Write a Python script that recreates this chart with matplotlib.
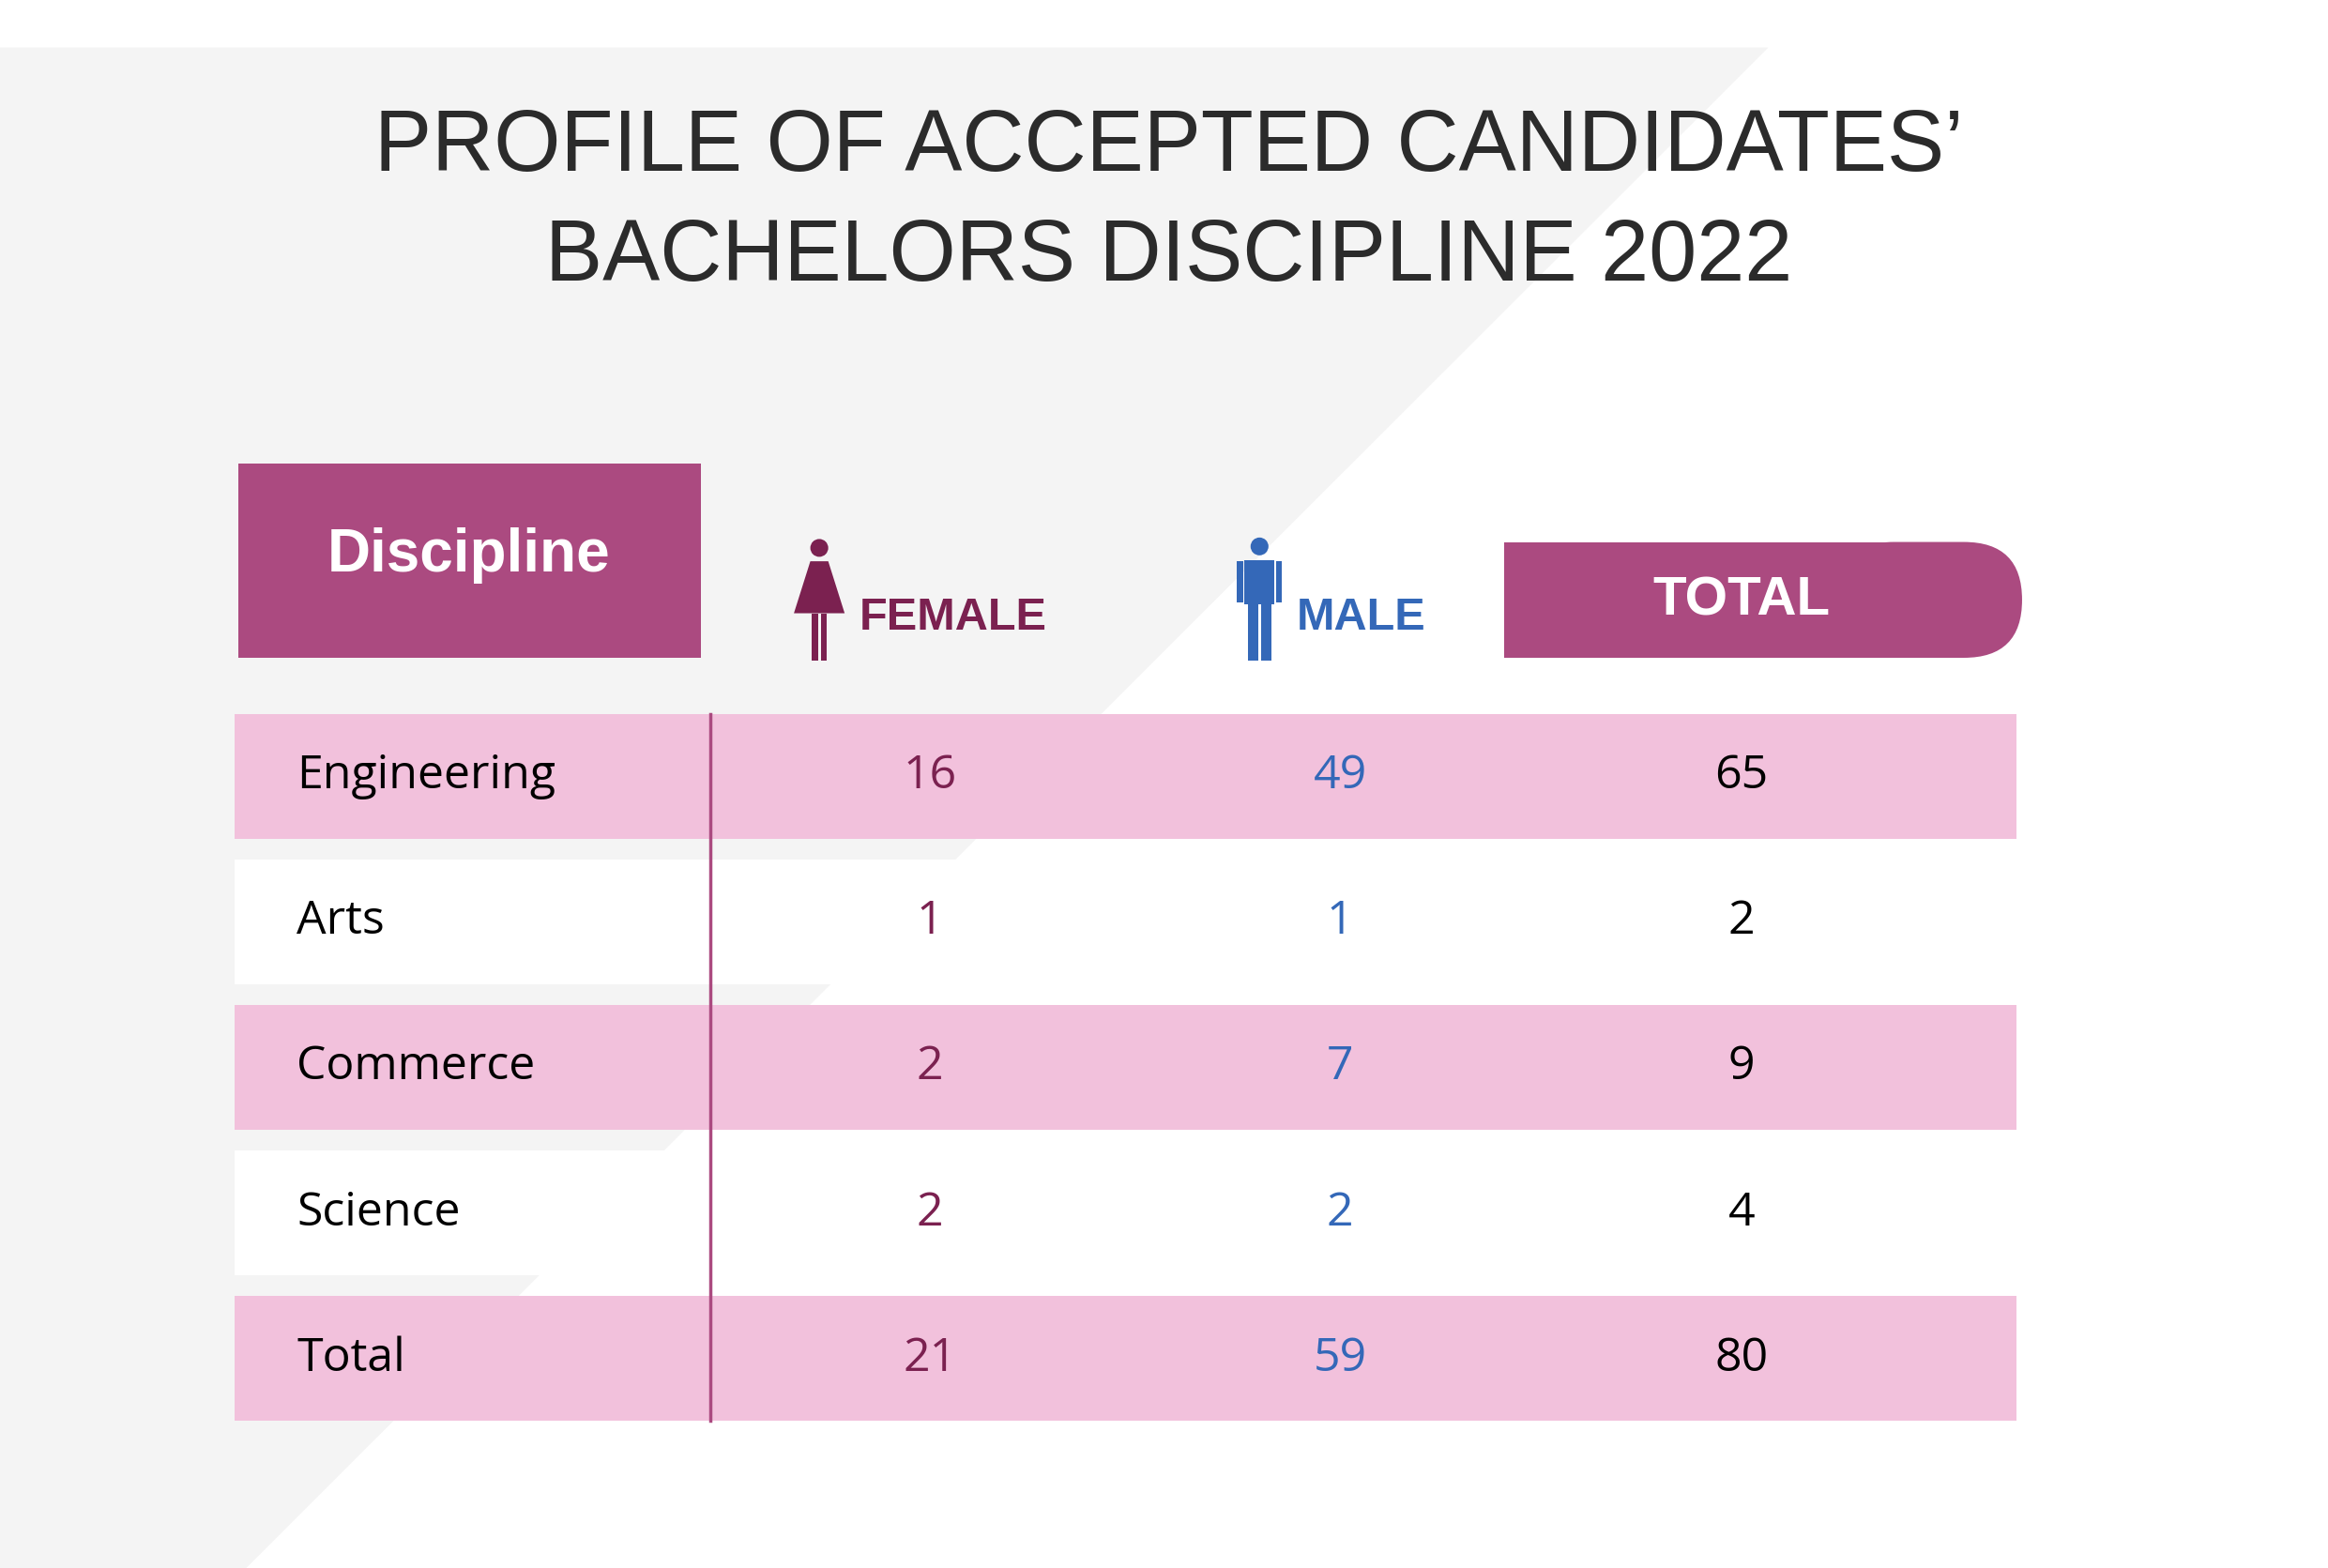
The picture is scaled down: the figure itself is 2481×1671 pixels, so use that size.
import matplotlib.pyplot as plt
from matplotlib.patches import Rectangle, Polygon, FancyBboxPatch, Circle

# data
disciplines = ["Engineering", "Arts", "Commerce", "Science", "Total"]
female = [16, 1, 2, 2, 21]
male = [49, 1, 7, 2, 59]
total = [65, 2, 9, 4, 80]

pink = "#f2c1dc"
magenta = "#ab4a80"
fem_col = "#7b2150"
male_col = "#3468b8"

fig = plt.figure(figsize=(24.81, 16.71), dpi=100)
ax = fig.add_axes([0, 0, 1, 1])
ax.set_xlim(0, 1560)
ax.set_ylim(1056, 0)
ax.axis("off")

# background diagonal
ax.add_patch(Polygon([(0, 32), (1185, 32), (165, 1056), (0, 1056)], color="#f4f4f4", lw=0))

ax.text(783, 100, "PROFILE OF ACCEPTED CANDIDATES’", ha="center", va="center",
        fontsize=66, family="Liberation Sans", color="#2b2b2b")
ax.text(783, 174, "BACHELORS DISCIPLINE 2022", ha="center", va="center",
        fontsize=66, family="Liberation Sans", color="#2b2b2b")

# headers
ax.add_patch(Rectangle((160, 312), 310, 131, color=magenta, lw=0))
ax.text(314, 374, "Discipline", ha="center", va="center", fontsize=46,
        weight="bold", color="white", family="Liberation Sans")
ax.add_patch(Rectangle((1008, 365), 300, 78, color=magenta, lw=0))
ax.add_patch(FancyBboxPatch((1230, 365), 125, 78, boxstyle="round,pad=0,rounding_size=39",
                            color=magenta, lw=0, mutation_aspect=1))
ax.text(1167, 405, "TOTAL", ha="center", va="center", fontsize=42,
        weight="bold", color="white", family="Liberation Sans")
ax.text(576, 416, "FEMALE", ha="left", va="center", fontsize=35,
        weight="bold", color=fem_col, family="Liberation Sans")
ax.text(869, 416, "MALE", ha="left", va="center", fontsize=35,
        weight="bold", color=male_col, family="Liberation Sans")

# female icon
ax.add_patch(Circle((549, 369), 6, color=fem_col, lw=0))
ax.add_patch(Polygon([(543, 378), (555, 378), (566, 413), (532, 413)], color=fem_col, lw=0))
ax.add_patch(Rectangle((544, 413), 4, 32, color=fem_col, lw=0))
ax.add_patch(Rectangle((550, 413), 4, 32, color=fem_col, lw=0))
# male icon
ax.add_patch(Circle((844, 368), 6, color=male_col, lw=0))
ax.add_patch(Rectangle((834, 377), 20, 30, color=male_col, lw=0))
ax.add_patch(Rectangle((829, 378), 4, 28, color=male_col, lw=0))
ax.add_patch(Rectangle((855, 378), 4, 28, color=male_col, lw=0))
ax.add_patch(Rectangle((836, 407), 7, 38, color=male_col, lw=0))
ax.add_patch(Rectangle((845, 407), 7, 38, color=male_col, lw=0))

# rows
for i, name in enumerate(disciplines):
    top = 481 + i * 98
    ax.add_patch(Rectangle((157, top), 1194, 84, color=pink if i % 2 == 0 else "white", lw=0))
    yc = top + 42
    kw = dict(va="center", fontsize=36, family="Open Sans")
    ax.text(199, yc, name, ha="left", color="black", **kw)
    ax.text(623, yc, str(female[i]), ha="center", color=fem_col, **kw)
    ax.text(898, yc, str(male[i]), ha="center", color=male_col, **kw)
    ax.text(1167, yc, str(total[i]), ha="center", color="black", **kw)

ax.plot([476, 476], [481, 957], color=magenta, lw=2.5)

fig.savefig("out.png", dpi=100)
